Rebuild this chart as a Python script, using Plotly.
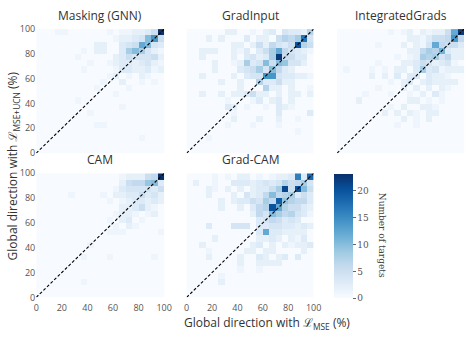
import plotly.graph_objects as go

# ---------------- data (rows listed from top: y 95-100 down to y 0-5) ----------------
bin_centers = [2.5 + 5 * i for i in range(20)]
tick_vals = [0, 20, 40, 60, 80, 100]
cbar_ticks = [0, 5, 10, 15, 20]
z_max = 23

titles = ["Masking (GNN)", "GradInput", "IntegratedGrads", "CAM", "Grad-CAM"]

masking = [
    [0,0,0,1,1,0,0,0,0,0,0,1,0,1,1,2,2,3,5,23],
    [0,0,0,0,0,0,0,0,0,0,0,0,1,2,2,3,4,10,14,5],
    [0,0,0,0,0,0,0,0,0,2,2,0,0,3,4,5,12,10,4,3],
    [0,0,0,0,0,0,0,1,0,2,2,0,0,3,8,10,8,4,2,1],
    [0,0,0,0,0,0,1,0,0,0,0,0,2,3,5,4,4,4,5,2],
    [0,0,0,0,0,0,0,0,1,0,0,1,2,3,3,2,3,4,2,1],
    [0,0,0,0,0,0,0,1,0,0,0,0,1,3,3,2,2,3,1,2],
    [0,0,0,0,0,0,0,0,0,0,0,1,2,0,1,0,2,1,0,0],
    [0,0,0,0,0,0,0,0,0,0,1,0,0,2,0,0,1,0,1,0],
    [0,0,0,0,0,0,0,0,0,1,0,0,0,0,1,0,0,0,0,0],
    [0,0,0,0,0,0,0,0,0,0,0,0,1,0,0,0,0,0,0,0],
    [0,0,0,0,0,0,1,0,0,0,0,0,0,0,0,0,0,0,0,0],
    [0,0,0,0,0,0,0,0,0,0,0,0,0,1,0,0,0,0,0,0],
    [0,0,0,0,0,0,0,0,1,0,0,0,0,0,0,0,0,0,0,0],
    [0,0,0,0,0,0,0,0,0,0,0,0,0,0,0,0,0,0,0,0],
    [0,0,0,0,0,0,0,0,0,1,1,0,0,0,0,0,0,0,0,0],
    [0,0,0,0,0,0,0,0,0,0,0,0,0,0,0,0,0,0,0,0],
    [0,0,0,0,0,0,0,0,0,0,0,0,0,0,0,0,1,0,0,0],
    [0,0,0,0,0,0,0,0,0,0,0,0,0,0,0,0,0,0,0,0],
    [0,0,0,0,0,0,0,0,0,0,0,0,0,0,0,0,0,0,0,0],
]

grad_input = [
    [0,0,0,0,0,0,2,2,0,0,1,0,2,3,0,4,3,3,2,7],
    [0,0,0,2,0,2,0,0,0,3,0,2,2,0,5,7,6,8,17,4],
    [0,0,0,0,0,0,0,2,2,0,2,5,2,6,4,3,5,20,7,5],
    [0,0,2,2,2,0,0,2,1,3,0,3,5,8,12,6,4,3,2,1],
    [0,0,2,0,0,0,0,2,0,3,4,2,3,8,22,5,5,3,3,0],
    [0,0,0,0,2,0,0,1,2,8,3,4,10,5,10,9,4,4,2,0],
    [0,0,0,0,2,0,0,0,3,4,5,8,4,10,6,3,2,0,0,0],
    [0,0,2,0,0,0,0,2,0,3,4,4,14,14,4,3,3,2,2,1],
    [0,0,0,0,0,2,0,0,2,0,0,7,3,3,5,2,2,0,0,0],
    [0,0,0,0,0,0,0,0,2,0,0,0,7,2,2,0,2,0,0,1],
    [0,0,2,0,0,2,0,2,2,3,5,2,2,0,2,0,2,2,0,2],
    [0,0,0,0,0,0,1,0,0,0,1,3,0,2,3,0,2,0,0,0],
    [0,0,0,0,0,0,3,2,0,1,0,0,1,0,3,2,1,0,0,0],
    [0,0,0,0,0,0,0,1,0,0,0,0,0,0,3,0,0,0,0,3],
    [0,0,0,0,0,0,0,2,0,0,0,2,0,0,2,0,0,1,0,0],
    [0,0,0,0,0,0,1,0,0,0,1,0,0,0,1,0,0,0,0,0],
    [0,0,0,0,0,0,0,0,0,0,0,0,0,0,0,0,0,1,0,0],
    [0,0,0,1,0,0,0,0,0,0,0,0,0,0,0,0,0,0,0,0],
    [0,0,0,0,0,0,0,0,0,0,0,0,0,0,0,0,0,0,0,0],
    [0,0,0,0,0,0,0,0,0,0,0,0,0,0,0,0,0,0,0,0],
]

integrated_grads = [
    [0,0,0,0,0,0,0,0,1,0,1,2,0,2,1,2,2,5,12,22],
    [0,0,0,0,0,0,0,0,0,0,0,2,2,1,3,5,5,6,14,6],
    [0,0,0,0,0,0,1,0,0,0,2,0,2,1,4,12,6,5,5,3],
    [0,0,0,0,0,0,0,0,0,0,0,2,2,6,8,7,11,3,2,2],
    [0,0,0,0,0,0,0,0,0,1,0,1,2,8,7,8,4,6,2,2],
    [0,0,0,0,0,0,1,0,0,0,2,2,3,5,4,2,3,4,1,0],
    [0,1,0,0,0,1,0,1,0,2,2,0,3,8,3,4,1,2,2,2],
    [0,0,0,0,0,2,0,2,0,3,0,3,3,0,3,2,2,1,0,0],
    [0,0,0,0,0,0,0,0,1,0,2,3,0,2,3,2,2,2,2,0],
    [0,0,0,0,0,0,1,0,0,0,2,0,2,0,2,0,2,1,0,0],
    [0,0,0,0,1,0,0,0,1,0,0,1,0,2,0,3,1,0,0,0],
    [0,0,0,2,0,0,0,0,0,0,0,2,2,0,1,0,1,0,0,0],
    [0,0,0,0,0,0,0,0,1,0,2,0,0,2,2,1,0,0,0,0],
    [0,0,0,0,0,0,0,2,0,2,0,2,1,0,2,2,0,0,0,0],
    [0,0,0,0,0,0,0,0,0,0,2,0,1,0,2,0,0,0,0,0],
    [0,0,0,0,0,0,0,0,0,1,0,0,1,0,0,0,0,0,0,0],
    [0,0,0,0,0,0,0,0,0,0,0,0,0,0,0,0,0,0,0,0],
    [0,0,0,0,0,0,0,0,0,0,0,0,0,0,0,0,0,0,0,0],
    [0,0,0,0,0,0,0,0,0,0,0,0,0,0,0,0,0,0,0,0],
    [0,0,0,0,0,0,0,0,0,0,0,0,0,0,0,0,0,0,0,0],
]

cam = [
    [0,0,0,0,0,0,0,0,0,0,0,0,0,1,2,2,2,5,6,23],
    [0,0,0,0,0,0,0,0,0,0,0,0,0,2,5,6,6,9,10,3],
    [0,0,0,0,0,0,0,0,0,0,0,0,1,3,4,4,4,4,3,5],
    [0,0,0,0,0,1,0,0,0,0,1,0,2,2,3,3,5,3,4,2],
    [0,0,0,0,0,0,0,0,0,0,0,1,0,1,2,3,3,2,3,2],
    [0,0,0,0,0,0,0,0,0,0,0,0,0,2,2,3,5,2,1,0],
    [0,0,0,0,0,0,0,0,0,0,0,0,1,2,2,1,0,1,2,0],
    [0,0,0,0,0,0,0,0,0,0,0,1,0,2,3,0,1,0,0,0],
    [0,0,0,0,0,0,0,0,0,0,0,0,1,0,2,1,0,0,0,0],
    [0,0,0,0,0,0,0,0,0,0,0,1,1,1,0,0,0,0,0,1],
    [0,0,0,0,0,0,0,0,0,0,0,0,0,0,0,0,0,0,0,0],
    [0,0,0,0,0,0,0,0,1,0,0,0,0,0,0,0,0,0,0,0],
    [0,0,0,0,0,0,0,0,0,0,0,0,0,0,0,0,0,0,0,0],
    [0,0,0,0,0,0,0,1,0,0,0,1,0,0,0,0,0,0,1,0],
    [0,0,0,0,0,0,0,0,0,0,0,0,0,0,0,0,0,0,0,0],
    [0,0,0,0,0,0,0,0,0,0,0,0,0,0,0,0,0,0,0,0],
    [0,0,0,0,0,0,0,0,0,0,0,0,0,0,0,0,0,0,0,0],
    [0,0,0,0,0,0,0,1,0,0,0,0,0,0,0,0,0,0,0,0],
    [0,0,0,0,0,0,0,0,0,0,0,0,0,0,0,0,0,0,0,0],
    [0,0,0,0,0,0,0,0,0,0,0,0,0,0,0,0,0,0,0,0],
]

grad_cam = [
    [0,0,0,0,1,0,1,0,2,2,0,1,0,1,2,2,3,16,3,18],
    [0,2,0,0,1,0,0,3,3,3,2,3,4,3,4,7,5,6,8,4],
    [0,0,0,2,1,0,2,0,2,0,2,3,3,5,8,21,5,20,10,5],
    [0,0,0,2,0,0,0,2,0,4,2,3,6,10,6,7,8,3,5,3],
    [0,0,0,0,0,2,0,2,3,3,5,4,8,6,19,9,7,6,6,3],
    [0,0,0,0,0,2,0,0,2,0,3,6,7,20,12,7,5,5,3,2],
    [0,0,0,0,0,0,0,0,0,0,2,6,4,10,8,6,7,4,3,1],
    [0,0,0,0,0,0,0,0,0,0,0,3,4,6,5,3,4,3,0,0],
    [0,0,0,3,0,0,0,4,4,4,0,3,3,4,4,3,3,2,3,2],
    [0,0,0,0,0,0,0,0,0,0,0,3,12,3,3,2,2,2,2,0],
    [0,0,0,0,2,0,0,0,0,0,0,2,2,3,2,0,2,1,3,0],
    [0,0,2,0,0,0,0,0,0,0,2,3,0,2,0,2,1,2,2,3],
    [0,0,0,1,0,0,0,0,0,2,2,0,2,2,0,0,0,0,2,0],
    [0,0,0,2,0,0,0,0,2,0,0,3,2,0,2,3,0,3,0,0],
    [0,0,0,0,0,0,0,0,2,0,0,2,2,2,2,0,0,0,0,0],
    [0,0,0,0,0,0,0,0,1,0,0,1,0,0,0,0,0,0,0,0],
    [0,0,0,0,0,1,0,0,0,0,0,0,0,0,0,0,0,0,0,0],
    [0,0,0,0,0,2,0,0,0,0,0,0,0,0,0,0,0,0,0,0],
    [0,0,0,0,0,0,0,0,0,0,0,0,0,0,0,0,0,0,0,0],
    [0,0,0,0,0,0,0,0,0,0,0,0,0,0,0,0,0,0,0,0],
]

panels = [masking, grad_input, integrated_grads, cam, grad_cam]

# ---------------- layout geometry ----------------
W, H = 474, 337
col_px = [(34, 165), (188, 318), (342, 472)]
row_px = [(23, 152), (173, 302)]
positions = [(0, 0), (0, 1), (0, 2), (1, 0), (1, 1)]

blues = [
    [0.0, "rgb(247,251,255)"], [0.125, "rgb(222,235,247)"], [0.25, "rgb(198,219,239)"],
    [0.375, "rgb(158,202,225)"], [0.5, "rgb(107,174,214)"], [0.625, "rgb(66,146,198)"],
    [0.75, "rgb(33,113,181)"], [0.875, "rgb(8,81,156)"], [1.0, "rgb(8,48,107)"],
]

SANS = "Open Sans, Noto Sans, sans-serif"
SERIF = "DejaVu Serif, Liberation Serif, serif"
fig = go.Figure()
layout = dict(
    width=W, height=H, margin=dict(l=0, r=0, t=0, b=0),
    paper_bgcolor="white", plot_bgcolor="white", showlegend=False,
    font=dict(family=SANS, color="#444"),
    coloraxis=dict(
        colorscale=blues, cmin=0, cmax=z_max,
        colorbar=dict(
            x=339 / W, xanchor="left", xpad=0, y=1 - 303 / H, yanchor="bottom", ypad=0,
            len=129 / H, lenmode="fraction", thickness=19, outlinewidth=0,
            tickvals=cbar_ticks, ticks="outside", ticklen=3, tickcolor="#666",
            tickfont=dict(family=SERIF, size=9, color="#555"),
        ),
    ),
)
annotations = []

for k, (data, title, (r, c)) in enumerate(zip(panels, titles, positions)):
    idx = "" if k == 0 else str(k + 1)
    xa, ya = "x" + idx, "y" + idx
    x0, x1 = col_px[c]
    y0, y1 = row_px[r]
    z = data[::-1]
    fig.add_trace(go.Heatmap(
        z=z, x=bin_centers, y=bin_centers, coloraxis="coloraxis",
        xaxis=xa, yaxis=ya, hoverinfo="skip",
    ))
    fig.add_trace(go.Scatter(
        x=[0, 100], y=[0, 100], mode="lines", xaxis=xa, yaxis=ya,
        line=dict(color="black", width=1.1, dash="3px,2px"), hoverinfo="skip",
    ))
    show_x = (r == 1)
    show_y = (c == 0)
    layout["xaxis" + idx] = dict(
        domain=[x0 / W, x1 / W], range=[0, 100], anchor=ya,
        showgrid=False, zeroline=False, showline=False,
        tickvals=tick_vals, showticklabels=show_x, ticklabelstandoff=4,
        tickfont=dict(size=9, color="#555"), ticks="",
    )
    layout["yaxis" + idx] = dict(
        domain=[1 - y1 / H, 1 - y0 / H], range=[0, 100], anchor=xa,
        showgrid=False, zeroline=False, showline=False,
        tickvals=tick_vals, showticklabels=show_y,
        tickfont=dict(size=9, color="#555"), ticks="",
    )
    annotations.append(dict(
        text=title, xref="paper", yref="paper",
        x=(x0 + x1) / 2 / W, y=1 - (y0 - 3) / H, xanchor="center", yanchor="bottom",
        showarrow=False, font=dict(size=12, color="#333"),
    ))

annotations += [
    dict(text="Global direction with ℒ<sub>MSE</sub> (%)", xref="paper", yref="paper",
         x=270 / W, y=1 - 329 / H, xanchor="center", yanchor="middle",
         showarrow=False, font=dict(size=12, color="#333")),
    dict(text="Global direction with ℒ<sub>MSE+UCN</sub> (%)", xref="paper", yref="paper",
         x=10 / W, y=1 - 165 / H, xanchor="center", yanchor="middle", textangle=-90,
         showarrow=False, font=dict(size=12, color="#333")),
    dict(text="Number of targets", xref="paper", yref="paper",
         x=388 / W, y=1 - 238 / H, xanchor="center", yanchor="middle", textangle=90,
         showarrow=False, font=dict(family=SERIF, size=9, color="#444")),
]
layout["annotations"] = annotations
fig.update_layout(**layout)
fig.write_html("out.html")
